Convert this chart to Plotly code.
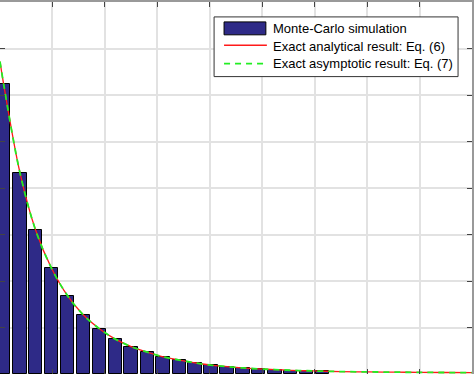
import plotly.graph_objects as go

# Histogram (Monte-Carlo) bin centers and heights
bin_centers = [0.07, 0.38, 0.68, 0.98, 1.29, 1.59, 1.90, 2.20, 2.50, 2.81, 3.11,
               3.42, 3.72, 4.02, 4.33, 4.63, 4.93, 5.24, 5.54, 5.85, 6.15]
mc_heights = [6.23, 4.33, 3.09, 2.28, 1.68, 1.27, 0.97, 0.75, 0.59, 0.47, 0.37,
              0.30, 0.24, 0.19, 0.16, 0.12, 0.10, 0.085, 0.075, 0.065, 0.055]

# Analytical / asymptotic curves
curve_x = [0.0, 0.07, 0.38, 0.68, 0.98, 1.29, 1.59, 1.90, 2.20, 2.50, 2.81, 3.11,
           3.42, 3.72, 4.02, 4.33, 4.63, 4.93, 5.24, 5.54, 5.85, 6.15, 6.5, 7.0,
           7.5, 8.0, 8.5, 9.0]
exact_y = [6.72, 6.23, 4.33, 3.09, 2.28, 1.68, 1.27, 0.97, 0.75, 0.59, 0.47, 0.37,
           0.30, 0.24, 0.19, 0.16, 0.13, 0.11, 0.095, 0.08, 0.07, 0.06, 0.052, 0.045,
           0.04, 0.035, 0.032, 0.03]
asym_y = list(exact_y)

legend_labels = ["Monte-Carlo simulation",
                 "Exact analytical result: Eq. (6)",
                 "Exact asymptotic result: Eq. (7)"]

BAR_COLOR = "#2e2a87"
RED = "#ff1a1a"
GREEN = "#22ee22"

fig = go.Figure()
fig.add_trace(go.Bar(
    x=bin_centers, y=mc_heights, width=0.255,
    marker=dict(color=BAR_COLOR, line=dict(color="black", width=1)),
    name=legend_labels[0]))
fig.add_trace(go.Scatter(
    x=curve_x, y=exact_y, mode="lines", line=dict(color=RED, width=1.3, shape="spline"),
    name=legend_labels[1]))
fig.add_trace(go.Scatter(
    x=curve_x, y=asym_y, mode="lines",
    line=dict(color=GREEN, width=1.8, dash="6px,5px", shape="spline"),
    name=legend_labels[2]))

axis_common = dict(showgrid=True, gridcolor="#e2e2e2", gridwidth=1.5,
                   showline=True, linecolor="#999999", linewidth=1.5,
                   mirror="allticks", ticks="inside", ticklen=5, tickcolor="#444444",
                   showticklabels=False, zeroline=False)

W, H = 474, 374


def px(xp):
    return xp / W


def py(yp):
    return 1 - yp / H


# MATLAB-style legend box drawn in paper coordinates
shapes = [
    dict(type="rect", xref="paper", yref="paper", x0=px(215), x1=px(460), y0=py(75), y1=py(15),
         line=dict(color="#333333", width=1), fillcolor="white", layer="above"),
    dict(type="rect", xref="paper", yref="paper", x0=px(225), x1=px(267), y0=py(33), y1=py(20),
         line=dict(color="black", width=1), fillcolor=BAR_COLOR, layer="above"),
    dict(type="line", xref="paper", yref="paper", x0=px(225), x1=px(268), y0=py(43.5), y1=py(43.5),
         line=dict(color=RED, width=1.3), layer="above"),
    dict(type="line", xref="paper", yref="paper", x0=px(225), x1=px(268), y0=py(62), y1=py(62),
         line=dict(color=GREEN, width=1.8, dash="6px,5px"), layer="above"),
]
annotations = [
    dict(xref="paper", yref="paper", x=px(272), y=py(yc), text=t, showarrow=False,
         xanchor="left", yanchor="middle", font=dict(size=13, color="black"))
    for t, yc in zip(legend_labels, [27, 44.5, 62])
]

fig.update_layout(
    width=W, height=H,
    margin=dict(l=0, r=0, t=0, b=0),
    paper_bgcolor="white", plot_bgcolor="white",
    font=dict(family="Liberation Sans, Arial, sans-serif", size=13, color="black"),
    bargap=0,
    showlegend=False,
    shapes=shapes, annotations=annotations,
    xaxis=dict(range=[0, 9], dtick=1, **axis_common),
    yaxis=dict(range=[0, 8], dtick=1, **axis_common),
)

fig.write_html("out.html", config={"displayModeBar": False},
               post_script="document.body.style.margin='0';document.body.style.overflow='hidden';")
